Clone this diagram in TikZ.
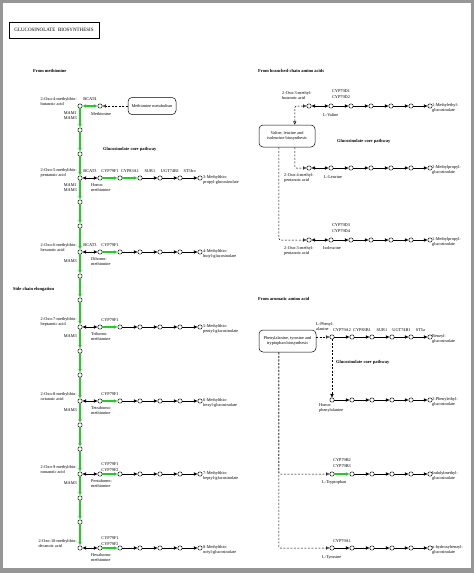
\documentclass[tikz,border=0pt]{standalone}
\usepackage{fontspec}
\setmainfont{Liberation Serif}
\usepackage{tikz}
\usetikzlibrary{positioning}
\usetikzlibrary{arrows.meta}
\definecolor{kgreen}{RGB}{40,200,40}
\definecolor{kframe}{RGB}{150,150,150}
\newcommand{\ksize}{\fontsize{4.3}{5.5}\selectfont}
\newcommand{\kbold}{\fontsize{4.5}{5.5}\selectfont\bfseries}

\tikzset{
  cpd/.style={circle,draw,fill=white,inner sep=0pt,minimum size=4.4pt,line width=0.45pt},
  lbl/.style={font=\ksize,inner sep=0pt,align=left},
  enz/.style={font=\ksize,inner sep=0pt,align=center},
  hdg/.style={font=\kbold,inner sep=0pt,anchor=west},
  mapbox/.style={draw,rounded corners=4pt,font=\ksize,align=center,inner sep=1pt,line width=0.5pt},
  rxn/.style={line width=0.7pt,-{Triangle[length=3.6pt,width=3.2pt]}},
  rev/.style={line width=0.7pt,{Triangle[length=3.6pt,width=3.2pt]}-{Triangle[length=3.6pt,width=3.2pt]}},
  grn/.style={kgreen,line width=1.4pt},
  lnk/.style={line width=0.5pt,dash pattern=on 2pt off 1.5pt,rounded corners=1.5pt,-{Triangle[open,length=3.4pt,width=3pt]}},
  lnkb/.style={lnk,{Triangle[open,length=3.4pt,width=3pt]}-{Triangle[open,length=3.4pt,width=3pt]}},
}

\begin{document}
\begin{tikzpicture}[x=1pt,y=-1pt]
  \useasboundingbox (0,0) rectangle (474,573);
  \fill[kframe] (0,0) rectangle (474,573);
  \fill[white] (3,3) rectangle (471,568);

  \node[draw,line width=0.6pt,minimum width=90pt,minimum height=16pt,inner sep=0pt,
        font=\fontsize{5}{6}\selectfont] (title) at (54,30) {GLUCOSINOLATE\ \ BIOSYNTHESIS};
  \draw[line width=1pt] ([xshift=1pt,yshift=-0.5pt]title.south west)
    -- ([xshift=0.5pt,yshift=-0.5pt]title.south east)
    -- ([xshift=0.5pt,yshift=-1pt]title.north east);

  % from methionine
  \node[hdg] at (33,71) {From methionine};
  \node[hdg] at (103,149) {Glucosinolate core pathway};
  \node[hdg] at (13,289) {Side chain elongation};

  \node[cpd] (m1a) at (80,106) {};
  \node[cpd] (m1b) at (100,106) {};
  \node[mapbox,minimum width=48pt,minimum height=17pt] (metb) at (152,106) {Methionine metabolism};
  \draw[rev,grn] (m1a) -- (m1b);
  \draw[lnk] (metb) -- (m1b);
  \node[enz] at (90,99.5) {BCAT4};
  \node[lbl,anchor=south east] at (77,106) {2-Oxo-4-methylthio-\\butanoic acid};
  \node[lbl,anchor=north west] at (91,112) {Methionine};

  \foreach \row/\ypos/\acid/\amino/\gsl in {
    2/178/{2-Oxo-5-methylthio-\\pentanoic acid}/{Homo-\\methionine}/{3-Methylthio-\\propyl-glucosinolate},
    3/252/{2-Oxo-6-methylthio-\\hexanoic acid}/{Dihomo-\\methionine}/{4-Methylthio-\\butyl-glucosinolate},
    4/327/{2-Oxo-7-methylthio-\\heptanoic acid}/{Trihomo-\\methionine}/{5-Methylthio-\\pentyl-glucosinolate},
    5/401/{2-Oxo-8-methylthio-\\octanoic acid}/{Tetrahomo-\\methionine}/{6-Methylthio-\\hexyl-glucosinolate},
    6/474/{2-Oxo-9-methylthio-\\nonanoic acid}/{Pentahomo-\\methionine}/{7-Methylthio-\\heptyl-glucosinolate},
    7/548/{2-Oxo-10-methylthio-\\decanoic acid}/{Hexahomo-\\methionine}/{8-Methylthio-\\octyl-glucosinolate}}{
    \node[cpd] (m\row a) at (80,\ypos) {};
    \foreach \col/\xpos in {b/100,c/120,d/140,e/160,f/180,g/200}
      \node[cpd] (m\row\col) at (\xpos,\ypos) {};
    \draw[rev] (m\row a) -- (m\row b);
    \draw[rxn,grn] (m\row b) -- (m\row c);
    \foreach \p/\q in {d/e,e/f,f/g}
      \draw[rxn] (m\row\p) -- (m\row\q);
    \node[lbl,anchor=south east] at (77,\ypos) {\acid};
    \node[lbl,anchor=north west] at (91,\ypos+5) {\amino};
    \node[lbl,anchor=north west] at (203,\ypos-3) {\gsl};
  }
  \draw[rxn,grn] (m2c) -- (m2d);
  \foreach \row in {3,...,7}
    \draw[rxn] (m\row c) -- (m\row d);

  \foreach \row/\next/\ypos in {1/2/106,2/3/178,3/4/252,4/5/327,5/6/401,6/7/474}{
    \node[cpd] (u\row) at (80,\ypos+24) {};
    \node[cpd] (w\row) at (80,\ypos+48) {};
    \draw[rxn,grn] (m\row a) -- (u\row);
    \draw[rxn,grn] (u\row) -- (w\row);
    \draw[rxn,grn] (w\row) -- (m\next a);
  }
  \node[lbl,anchor=north east] at (77,111) {MAM1\\MAM3};
  \node[lbl,anchor=north east] at (77,183) {MAM1\\MAM3};
  \foreach \ypos in {252,327,401,474}
    \node[lbl,anchor=north east] at (77,\ypos+7.5) {MAM3};

  \node[enz] at (90,171.5) {BCAT3};
  \node[enz] at (110,171.5) {CYP79F1};
  \node[enz] at (130,171.5) {CYP83A1};
  \node[enz] at (150,171.5) {SUR1};
  \node[enz] at (170,171.5) {UGT74B1};
  \node[enz] at (190,171.5) {ST5b-c};
  \node[enz] at (90,245.5) {BCAT3};
  \node[enz] at (110,245.5) {CYP79F1};
  \node[enz] at (110,320.5) {CYP79F1};
  \node[enz] at (110,394.5) {CYP79F1};
  \node[enz] at (110,467.2) {CYP79F1\\CYP79F2};
  \node[enz] at (110,541.2) {CYP79F1\\CYP79F2};

  % from branched-chain amino acids
  \node[hdg] at (258,71) {From branched-chain amino acids};
  \node[hdg] at (337,141) {Glucosinolate core pathway};
  \node[mapbox,minimum width=56pt,minimum height=22pt] (vlib) at (287,136) {Valine, leucine and\\isoleucine biosynthesis};

  \foreach \row/\ypos/\gsl in {1/106/{1-Methylethyl-\\glucosinolate},
                               2/168/{2-Methylpropyl-\\glucosinolate},
                               3/240/{1-Methylpropyl-\\glucosinolate}}{
    \node[cpd] (b\row a) at (309,\ypos) {};
    \foreach \col/\xpos in {b/331,c/351,d/371,e/391,f/411,g/430}
      \node[cpd] (b\row\col) at (\xpos,\ypos) {};
    \draw[rev] (b\row a) -- (b\row b);
    \foreach \p/\q in {b/c,c/d,d/e,e/f,f/g}
      \draw[rxn] (b\row\p) -- (b\row\q);
    \node[lbl,anchor=north west] at (432,\ypos-3) {\gsl};
  }
  \draw[lnkb] ([xshift=36pt]vlib.north west) |- (b1a);
  \draw[lnk] ([xshift=36pt]vlib.south west) |- (b2a);
  \draw[lnk] ([xshift=20pt]vlib.south west) |- (b3a);

  \node[enz] at (341,94) {CYP79D1\\CYP79D2};
  \node[enz] at (341,228) {CYP79D3\\CYP79D4};
  \node[lbl,anchor=south west] at (282,100) {2-Oxo-3-methyl-\\butanoic acid};
  \node[lbl,anchor=north west] at (323,113) {L-Valine};
  \node[lbl,anchor=north west] at (284,173) {2-Oxo-4-methyl-\\pentanoic acid};
  \node[lbl,anchor=north west] at (324,175) {L-Leucine};
  \node[lbl,anchor=north west] at (284,246) {2-Oxo-3-methyl-\\pentanoic acid};
  \node[lbl,anchor=north west] at (323,246) {Isoleucine};

  % from aromatic amino acid
  \node[hdg] at (258,299) {From aromatic amino acid};
  \node[hdg] at (336,362) {Glucosinolate core pathway};
  \node[mapbox,minimum width=57pt,minimum height=22pt] (pheb) at (287.5,341) {Phenylalanine, tyrosine and\\tryptophan biosynthesis};

  \foreach \row/\ypos/\gsl in {1/337/{Benzyl-\\glucosinolate},
                               2/400/{2-Phenylethyl-\\glucosinolate},
                               3/474/{Indolylmethyl-\\glucosinolate},
                               4/548/{p-hydroxybenzyl-\\glucosinolate}}{
    \foreach \col/\xpos in {a/332,b/352,c/372,d/392,e/411,f/430}
      \node[cpd] (r\row\col) at (\xpos,\ypos) {};
    \foreach \p/\q in {b/c,c/d,d/e,e/f}
      \draw[rxn] (r\row\p) -- (r\row\q);
    \node[lbl,anchor=north west] at (432,\ypos-3) {\gsl};
  }
  \foreach \row in {1,2,4}
    \draw[rxn] (r\row a) -- (r\row b);
  \draw[rxn,grn] (r3a) -- (r3b);
  \draw[lnk] (pheb.east |- r1a) -- (r1a);
  \draw[lnk,-{Triangle[length=3.6pt,width=3.2pt]}] (r1a) -- (r2a);
  \draw[lnk] ([xshift=20pt]pheb.south west) |- (r3a);
  \draw[lnk] ([xshift=20pt]pheb.south west) |- (r4a);

  \node[enz] at (342,330.5) {CYP79A2};
  \node[enz] at (362,330.5) {CYP83B1};
  \node[enz] at (382,330.5) {SUR1};
  \node[enz] at (401.5,330.5) {UGT74B1};
  \node[enz] at (420.5,330.5) {ST5a};
  \node[enz] at (342,463) {CYP79B2\\CYP79B3};
  \node[enz] at (342,541.5) {CYP79A1};
  \node[lbl,anchor=south west] at (316,331) {L-Phenyl-\\alanine};
  \node[lbl,anchor=north west] at (319,403) {Homo-\\phenylalanine};
  \node[lbl,anchor=north west] at (322,480) {L-Tryptophan};
  \node[lbl,anchor=north west] at (322,555) {L-Tyrosine};
\end{tikzpicture}
\end{document}
